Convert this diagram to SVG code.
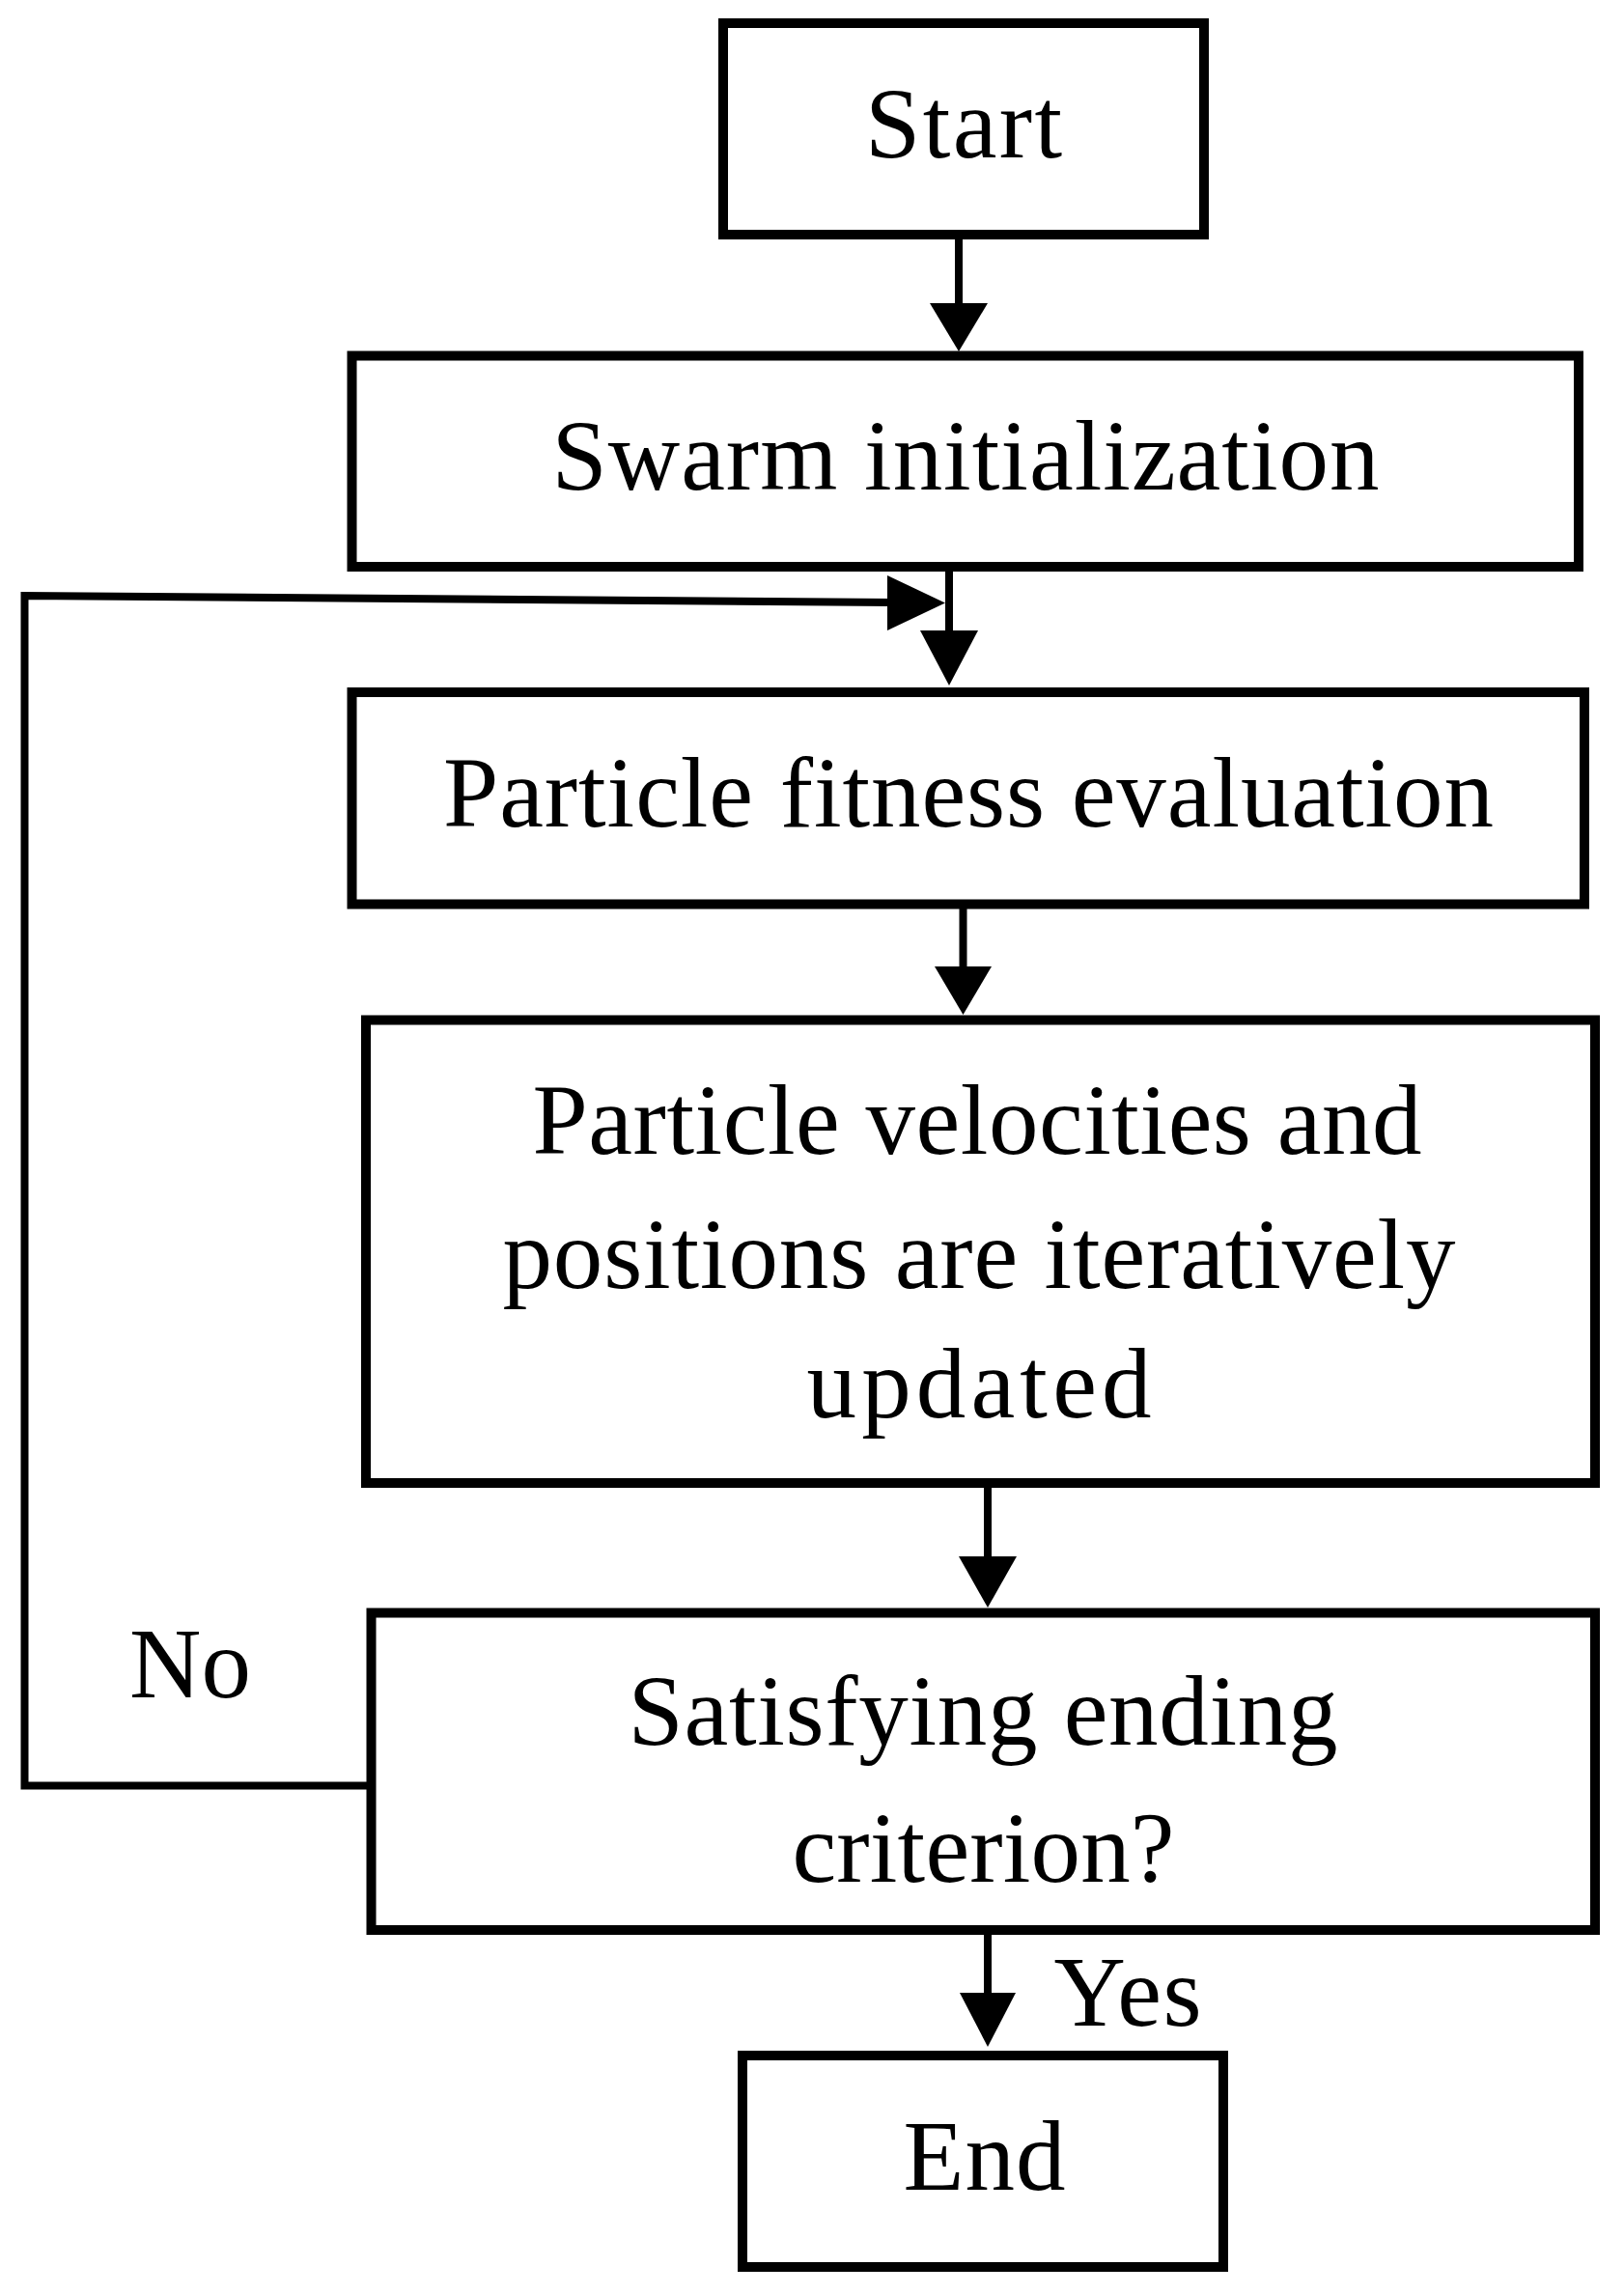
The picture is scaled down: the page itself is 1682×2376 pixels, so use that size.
<svg xmlns="http://www.w3.org/2000/svg" width="1682" height="2376" viewBox="0 0 1682 2376">
<style>
.box{fill:#fff;stroke:#000;stroke-width:10}
.t{font-family:"Liberation Serif","Times New Roman",serif;font-size:103px;fill:#000;text-anchor:middle}
.ln{fill:none;stroke:#000;stroke-width:8}
.ah{fill:#000;stroke:none}
</style>
<rect width="1682" height="2376" fill="#fff"/>
<g id="connectors">
<line class="ln" x1="993" y1="243" x2="993" y2="320"/>
<polygon class="ah" points="963,314 1023,314 993,364"/>
<line class="ln" x1="983" y1="592" x2="983" y2="660"/>
<polygon class="ah" points="953,653 1013,653 983,710"/>
<line class="ln" x1="997.5" y1="941" x2="997.5" y2="1008"/>
<polygon class="ah" points="968,1001 1027,1001 997.5,1051"/>
<line class="ln" x1="1023" y1="1541" x2="1023" y2="1620"/>
<polygon class="ah" points="993,1612 1053,1612 1023,1665"/>
<line class="ln" x1="1023" y1="2004" x2="1023" y2="2070"/>
<polygon class="ah" points="994,2064 1052,2064 1023,2120"/>
<polyline class="ln" points="380,1849.5 25.5,1849.5 25.5,617 925,624"/>
<polygon class="ah" points="919,596 919,653 979,624.5"/>
<text id="label-no" class="t" x="197" y="1758">No</text>
<text id="label-yes" class="t" x="1168" y="2098" textLength="153">Yes</text>
</g>
<g id="node-start">
<rect class="box" x="749" y="24" width="498" height="219"/>
<text class="t" x="998" y="163" textLength="204">Start</text>
</g>
<g id="node-swarm">
<rect class="box" x="364.5" y="368.5" width="1270.5" height="218.5"/>
<text class="t" x="1000" y="507" textLength="857">Swarm initialization</text>
</g>
<g id="node-fitness">
<rect class="box" x="364.5" y="717" width="1276.5" height="219.5"/>
<text class="t" x="1003" y="856" textLength="1088">Particle fitness evaluation</text>
</g>
<g id="node-update">
<rect class="box" x="379" y="1056.5" width="1273" height="479.5"/>
<text class="t" x="1012" y="1195" textLength="921">Particle velocities and</text>
<text class="t" x="1014" y="1334" textLength="987">positions are iteratively</text>
<text class="t" x="1014" y="1468" textLength="357">updated</text>
</g>
<g id="node-criterion">
<rect class="box" x="384.5" y="1670.5" width="1267.5" height="328.5"/>
<text class="t" x="1018" y="1807" textLength="735">Satisfying ending</text>
<text class="t" x="1018.5" y="1949" textLength="396">criterion?</text>
</g>
<g id="node-end">
<rect class="box" x="769" y="2129" width="498" height="219"/>
<text class="t" x="1019.5" y="2268" textLength="168">End</text>
</g>
</svg>
